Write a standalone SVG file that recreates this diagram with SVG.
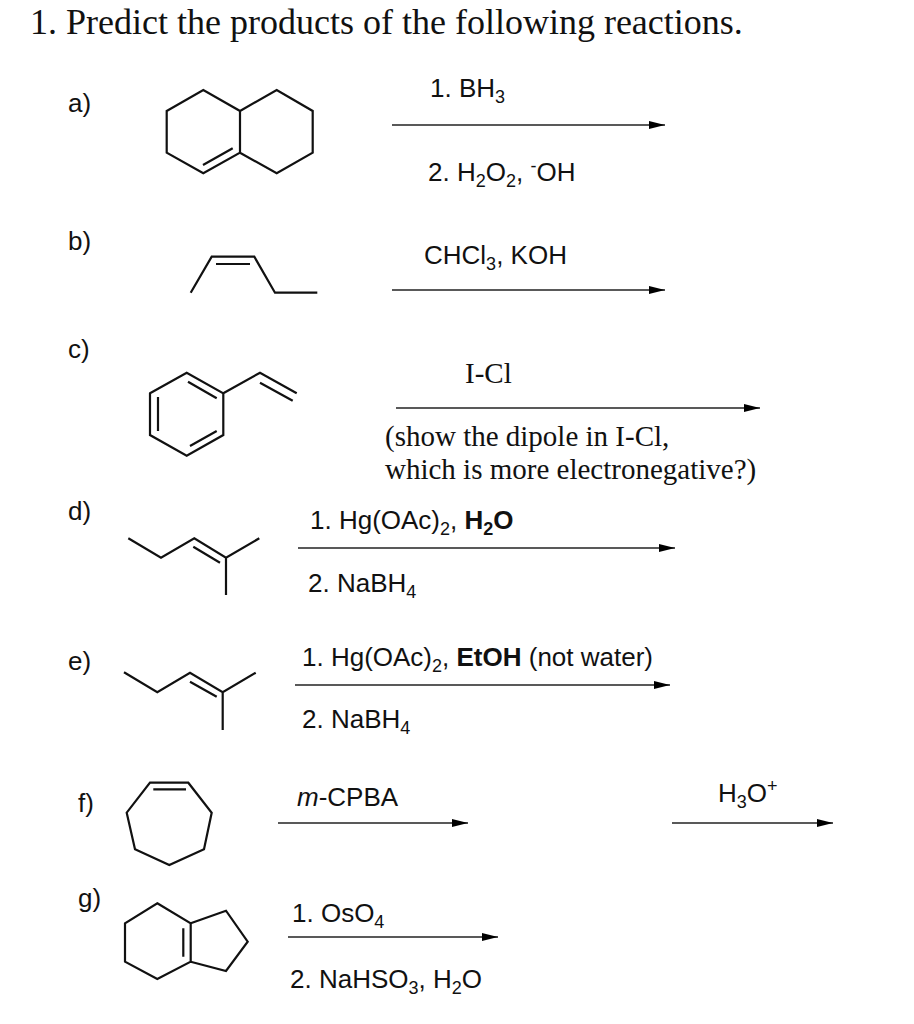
<svg xmlns="http://www.w3.org/2000/svg" width="914" height="1024" viewBox="0 0 914 1024">
<defs>
<marker id="ah" markerWidth="16" markerHeight="8" refX="16" refY="4" orient="auto" markerUnits="userSpaceOnUse"><path d="M0,0 L16,4 L0,8 Z" fill="#000"/></marker>
<style>
.b{fill:none;stroke:#111;stroke-width:2.2;stroke-linejoin:miter}
.a{stroke:#222;stroke-width:1.6;marker-end:url(#ah)}
.t{font-family:"Liberation Sans",Arial,sans-serif;font-size:26px;fill:#111}
.s{font-family:"Liberation Serif","Times New Roman",serif;font-size:29px;fill:#111}
.sub{font-size:18px}
</style>
</defs>
<rect width="914" height="1024" fill="#fff"/>
<text x="30" y="34" class="s" style="font-size:36px">1. Predict the products of the following reactions.</text>

<g id="mol-a">
<text x="68" y="112" class="t">a)</text>
<path class="b" d="M166.7,111 L203.3,90 L240,111 L240,152.7 L203.3,173.3 L166.7,152.7 Z M240,111 L276.7,90 L312.7,111 L312.7,152.7 L276.7,173.3 L240,152.7 M203,165 L232.7,148.3"/>
</g>
<g id="mol-b">
<text x="68" y="250" class="t">b)</text>
<path class="b" d="M190.7,292.7 L211.7,256.7 L254.3,256.7 L275,292.7 L317.3,292.7 M216,264 L250,264"/>
</g>
<g id="mol-c">
<text x="68" y="358" class="t">c)</text>
<path class="b" d="M150,393.3 L186.7,372.7 L223.3,393.3 L223.3,435 L186.7,455.7 L150,435 Z M223.3,393.3 L260,372.7 L296.7,393.3 M260,382.7 L292.7,400.7 M158,397 L158,431 M188,381.7 L216.7,398.3 M190,446 L216.7,431"/>
</g>
<g id="mol-d">
<text x="68" y="520" class="t">d)</text>
<path class="b" d="M128.3,538.3 L161,557.7 L194.3,538.3 L226,557.7 L259.3,538.3 M226,557.7 L226,595 M193.3,546.7 L220,562.7"/>
</g>
<g id="mol-e">
<text x="68" y="670" class="t">e)</text>
<path class="b" d="M124,672.3 L157.3,692.3 L190,672.7 L222.7,692.3 L255.7,672.7 M222.7,692.3 L222.7,730 M190,681.7 L216.7,696.7"/>
</g>
<g id="mol-f">
<text x="78" y="812" class="t">f)</text>
<path class="b" d="M150,782.7 L188.3,782.7 L211.7,812.7 L204,849.3 L169.3,865 L135,849.3 L126.7,812.7 Z M153.3,789.3 L186,789.3"/>
</g>
<g id="mol-g">
<text x="78" y="907" class="t">g)</text>
<path class="b" d="M157.3,903.3 L190.7,923.3 L190.7,961.7 L157.3,979 L125,961.7 L125,923.3 Z M190.7,923.3 L226,910.7 L247.7,941.7 L226,971 L190.7,961.7 M183.3,928.3 L183.3,956.7"/>
</g>

<g id="connectors">
<line class="a" x1="392" y1="125" x2="665" y2="125"/>
<line class="a" x1="392" y1="290" x2="665" y2="290"/>
<line class="a" x1="396" y1="408" x2="760" y2="408"/>
<line class="a" x1="298" y1="548" x2="675" y2="548"/>
<line class="a" x1="295" y1="685" x2="670" y2="685"/>
<line class="a" x1="278" y1="823" x2="468" y2="823"/>
<line class="a" x1="672" y1="823" x2="833" y2="823"/>
<line class="a" x1="288" y1="937" x2="498" y2="937"/>
</g>

<g id="labels">
<text x="430" y="97" class="t">1. BH<tspan class="sub" dy="6">3</tspan></text>
<text x="428" y="181" class="t">2. H<tspan class="sub" dy="6">2</tspan><tspan dy="-6">O</tspan><tspan class="sub" dy="6">2</tspan><tspan dy="-6">, </tspan><tspan class="sub" dy="-9">-</tspan><tspan dy="9">OH</tspan></text>
<text x="424" y="264" class="t">CHCl<tspan class="sub" dy="6">3</tspan><tspan dy="-6">, KOH</tspan></text>
<text x="465" y="383" class="s">I-Cl</text>
<text x="385" y="446" class="s">(show the dipole in I-Cl,</text>
<text x="385" y="479" class="s">which is more electronegative?)</text>
<text x="310" y="529" class="t">1. Hg(OAc)<tspan class="sub" dy="6">2</tspan><tspan dy="-6">, </tspan><tspan font-weight="bold">H</tspan><tspan class="sub" font-weight="bold" dy="6">2</tspan><tspan font-weight="bold" dy="-6">O</tspan></text>
<text x="308" y="592" class="t">2. NaBH<tspan class="sub" dy="6">4</tspan></text>
<text x="302" y="666" class="t">1. Hg(OAc)<tspan class="sub" dy="6">2</tspan><tspan dy="-6">, </tspan><tspan font-weight="bold">EtOH</tspan> (not water)</text>
<text x="302" y="728" class="t">2. NaBH<tspan class="sub" dy="6">4</tspan></text>
<text x="297" y="806" class="t"><tspan font-style="italic">m</tspan>-CPBA</text>
<text x="718" y="802" class="t">H<tspan class="sub" dy="6">3</tspan><tspan dy="-6">O</tspan><tspan class="sub" dy="-10">+</tspan></text>
<text x="292" y="922" class="t">1. OsO<tspan class="sub" dy="6">4</tspan></text>
<text x="290" y="988" class="t">2. NaHSO<tspan class="sub" dy="6">3</tspan><tspan dy="-6">, H</tspan><tspan class="sub" dy="6">2</tspan><tspan dy="-6">O</tspan></text>
</g>
</svg>
